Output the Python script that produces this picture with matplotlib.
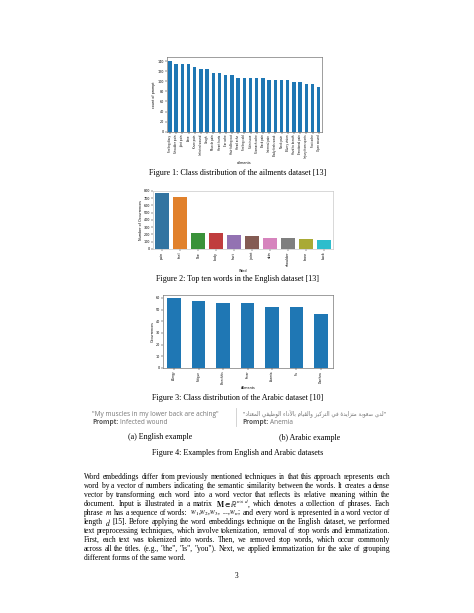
import re
import matplotlib
matplotlib.use("Agg")
import matplotlib.pyplot as plt

# Figure 1 data: ailments dataset
ailments = ['Feeling dizzy', 'Shoulder pain', 'Joint pain', 'Acne', 'Knee pain',
            'Infected wound', 'Cough', 'Muscle pain', 'Heart hurts', 'Ear ache',
            'Hair falling out', 'Head ache', 'Feeling cold', 'Skin issue', 'Stomach ache',
            'Back pain', 'Internal pain', 'Body feels weak', 'Neck pain', 'Blurry vision',
            'Hard to breath', 'Emotional pain', 'Injury from sports', 'Foot ache', 'Open wound']
ailment_counts = [140, 135, 135, 135, 128, 124, 124, 116, 116, 112, 112, 107, 107, 107,
                  107, 107, 103, 103, 103, 103, 99, 99, 95, 95, 88]

# Figure 2 data: top ten English words
words = ['pain', 'feel', 'like', 'body', 'hurt', 'joint', 'skin', 'shoulder', 'knee', 'back']
word_counts = [765, 715, 218, 214, 191, 174, 150, 145, 137, 128]
word_colors = ['#3274a1', '#e1812c', '#3a923a', '#c03d3e', '#9372b2',
               '#845b53', '#d684bd', '#7f7f7f', '#a9aa35', '#2ebdcc']

# Figure 3 data: Arabic dataset
ar_ailments = ['Allergy', 'Fatigue', 'Bronchitis', 'Fever', 'Anemia', 'Flu', 'Diarrhea']
ar_counts = [60, 57, 56, 56, 52, 52, 46]

W, H = 474, 613
SERIF = 'Liberation Serif'
TICK = 2.4
CAP = 5.75
BODY = 5.45


def px(x, y):
    # page pixel coordinates -> figure fraction
    return x / W, 1 - y / H


# simple Arabic shaping into presentation forms, then visual (reversed) order
AR_LETTERS = "ءآأؤإئابةتثجحخدذرزسشصضطظعغفقكلمنهوىي"
RIGHT_ONLY = set("آأؤإادذرزوىة")
LAM_ALEF = {'ا': 0xFEFB, 'أ': 0xFEF7, 'إ': 0xFEF9, 'آ': 0xFEF5}
forms = {}
code = 0xFE80
for ch in AR_LETTERS:
    n = 1 if ch == "ء" else (2 if ch in RIGHT_ONLY else 4)
    forms[ch] = [chr(code + k) for k in range(n)]
    code += n


def shape_arabic(s):
    out = []
    i = 0
    while i < len(s):
        c = s[i]
        if c not in forms:
            out.append(c)
            i += 1
            continue
        prev = s[i - 1] if i > 0 else ''
        linked_prev = prev in forms and len(forms[prev]) == 4
        if c == 'ل' and i + 1 < len(s) and s[i + 1] in LAM_ALEF:
            out.append(chr(LAM_ALEF[s[i + 1]] + (1 if linked_prev else 0)))
            i += 2
            continue
        nxt = s[i + 1] if i + 1 < len(s) else ''
        linked_next = len(forms[c]) == 4 and nxt in forms
        if linked_prev and linked_next:
            f = 3
        elif linked_prev:
            f = 1
        elif linked_next:
            f = 2
        else:
            f = 0
        out.append(forms[c][f])
        i += 1
    return ''.join(reversed(out))


def style_axes(ax, size=TICK):
    for sp in ax.spines.values():
        sp.set_linewidth(0.4)
        sp.set_color('#555555')
    ax.tick_params(labelsize=size, width=0.3, length=1.2, pad=0.8)


fig = plt.figure(figsize=(W / 100, H / 100), dpi=100)
renderer = fig.canvas.get_renderer()

# ---- Figure 1
ax1 = fig.add_axes([0.352, 0.785, 0.327, 0.122])
ax1.bar(range(len(ailments)), ailment_counts, width=0.55, color='#1f77b4')
ax1.set_xlim(-0.5, len(ailments) - 0.5)
ax1.set_ylim(0, 148)
ax1.set_yticks(range(0, 141, 20))
ax1.set_xticks(range(len(ailments)))
ax1.set_xticklabels(ailments, rotation=90)
ax1.set_xlabel('ailments', fontsize=TICK, labelpad=2)
ax1.set_ylabel('count of prompt', fontsize=TICK, labelpad=1)
style_axes(ax1)
ax1.tick_params(axis='x', labelsize=1.9)
fig.text(*px(238, 173), 'Figure 1: Class distribution of the ailments dataset [13]',
         ha='center', va='center', family=SERIF, fontsize=CAP)

# ---- Figure 2
ax2 = fig.add_axes([0.323, 0.594, 0.38, 0.0946])
ax2.bar(range(len(words)), word_counts, width=0.8, color=word_colors)
ax2.set_xlim(-0.5, len(words) - 0.5)
ax2.set_ylim(0, 800)
ax2.set_yticks(range(0, 801, 100))
ax2.set_xticks(range(len(words)))
ax2.set_xticklabels(words, rotation=90)
ax2.set_xlabel('Word', fontsize=TICK, labelpad=2)
ax2.set_ylabel('Number of Occurrences', fontsize=TICK, labelpad=1)
style_axes(ax2)
for sp in ax2.spines.values():
    sp.set_color('#bbbbbb')
fig.text(*px(238, 279), 'Figure 2: Top ten words in the English dataset [13]',
         ha='center', va='center', family=SERIF, fontsize=CAP)

# ---- Figure 3
ax3 = fig.add_axes([0.344, 0.3997, 0.359, 0.119])
ax3.bar(range(len(ar_ailments)), ar_counts, width=0.55, color='#1f77b4')
ax3.set_xlim(-0.45, len(ar_ailments) - 0.5)
ax3.set_ylim(0, 62.5)
ax3.set_yticks(range(0, 61, 10))
ax3.set_xticks(range(len(ar_ailments)))
ax3.set_xticklabels(ar_ailments, rotation=90)
ax3.set_xlabel('Ailments', fontsize=TICK, labelpad=1.5)
ax3.set_ylabel('Occurrences', fontsize=TICK, labelpad=1)
style_axes(ax3)
ax3.tick_params(axis='x', labelsize=2.0)
fig.text(*px(238, 398), 'Figure 3: Class distribution of the Arabic dataset [10]',
         ha='center', va='center', family=SERIF, fontsize=CAP)

# ---- Figure 4: examples
grey = '#777777'
SZ = 4.7


def prompt_line(x, y, value):
    lab = fig.text(*px(x, y), 'Prompt:', ha='left', va='center',
                   family='Open Sans', fontsize=SZ, color='#555555', weight='bold')
    w = lab.get_window_extent(renderer).width
    fig.text(*px(x + w + 2, y), value, ha='left', va='center',
             family='Open Sans', fontsize=SZ, color=grey)


fig.text(*px(92, 414), '"My muscles in my lower back are aching"', ha='left', va='center',
         family='Open Sans', fontsize=SZ, color=grey)
prompt_line(92, 422, 'Infected wound')
fig.add_artist(plt.Line2D([236 / W, 236 / W], [1 - 408 / H, 1 - 426 / H],
                          color='#cccccc', lw=0.6))
arabic = '"لدي صعوبة متزايدة في التركيز والقيام بالأداء الوظيفي المعتاد"'
fig.text(*px(386, 414), shape_arabic(arabic), ha='right', va='center',
         family='DejaVu Sans', fontsize=4.0, color=grey)
prompt_line(242, 422, 'Anemia')
fig.text(*px(160, 437), '(a) English example', ha='center', va='center',
         family=SERIF, fontsize=CAP)
fig.text(*px(310, 438), '(b) Arabic example', ha='center', va='center',
         family=SERIF, fontsize=CAP)
fig.text(*px(238, 453), 'Figure 4: Examples from English and Arabic datasets',
         ha='center', va='center', family=SERIF, fontsize=CAP)

# ---- body text, justified between x=84 and x=390
plt.rcParams['mathtext.fontset'] = 'stix'
body = [
    'Word embeddings differ from previously mentioned techniques in that this approach represents each',
    'word by a vector of numbers indicating the semantic similarity between the words. It creates a dense',
    'vector by transforming each word into a word vector that reflects its relative meaning within the',
    r'document. Input is illustrated in a matrix $\mathbf{M} \in \mathbb{R}^{n \times d}$, which denotes a collection of phrases. Each',
    r'phrase $m$ has a sequence of words: $w_1$,$w_2$,$w_3$, ...,$w_n$; and every word is represented in a word vector of',
    r'length $d$ [15]. Before applying the word embeddings technique on the English dataset, we performed',
    'text preprocessing techniques, which involve tokenization, removal of stop words and lemmatization.',
    'First, each text was tokenized into words. Then, we removed stop words, which occur commonly',
    'across all the titles. (e.g., "the", "is", "you"). Next, we applied lemmatization for the sake of grouping',
    'different forms of the same word.',
]
left, right = 84, 390
for k, line in enumerate(body):
    y = 477 + k * 9.0
    if k == len(body) - 1:
        fig.text(*px(left, y), line, ha='left', va='center', family=SERIF, fontsize=BODY)
        continue
    tokens = re.findall(r'(?:\$[^$]*\$|[^\s$])+', line)
    texts = [fig.text(*px(left, y), t, ha='left', va='center', family=SERIF, fontsize=BODY)
             for t in tokens]
    widths = [t.get_window_extent(renderer).width for t in texts]
    gap = (right - left - sum(widths)) / (len(texts) - 1)
    x = left
    for t, w in zip(texts, widths):
        t.set_x(x / W)
        x += w + gap

fig.text(*px(237, 576), '3', ha='center', va='center', family=SERIF, fontsize=BODY)

plt.savefig('out.png', dpi=100)
